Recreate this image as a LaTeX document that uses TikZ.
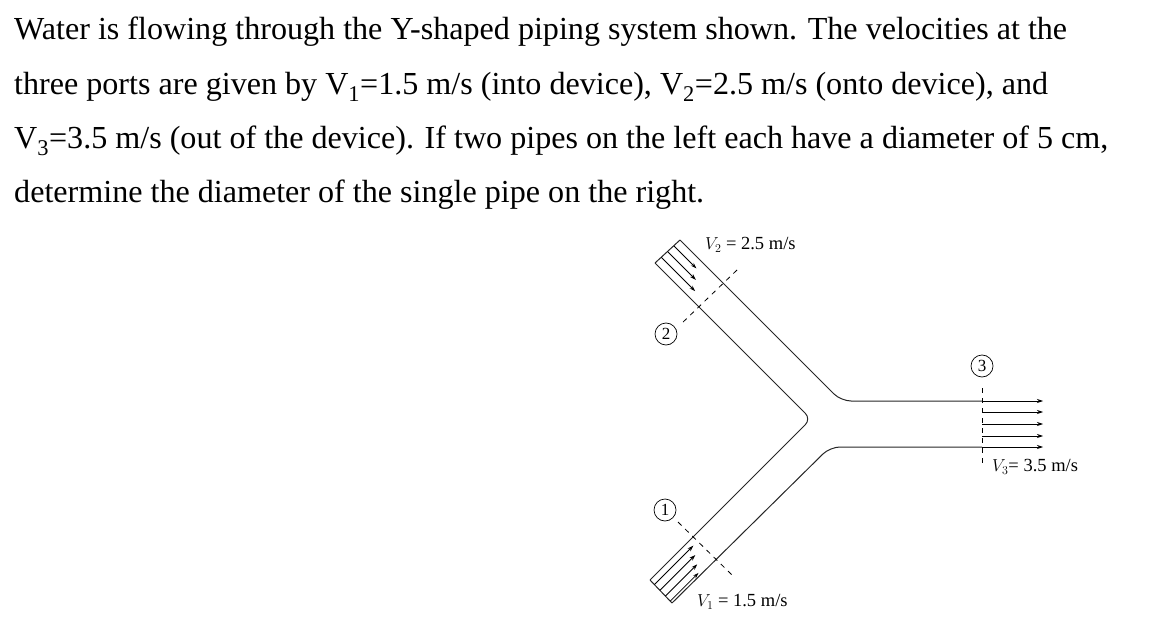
\documentclass[tikz,border=0pt]{standalone}
\usepackage{fontspec}
\setmainfont{Liberation Serif}
\usetikzlibrary{calc,arrows.meta}
\begin{document}
\begin{tikzpicture}[x=1pt,y=-1pt,
  txt/.style={anchor=base west,inner sep=0,font=\fontsize{32.1}{32}\selectfont},
  lab/.style={inner sep=0,font=\fontsize{18.5}{18}\selectfont},
  wall/.style={line width=1pt,black!85},
  flow/.style={line width=0.8pt,-{Stealth[length=6pt,width=4pt]}},
  cut/.style={line width=0.8pt,dash pattern=on 5pt off 5pt},
  port/.style={circle,draw,line width=0.7pt,inner sep=0pt,minimum size=22pt,font=\fontsize{17}{17}\selectfont}]
\useasboundingbox (0,0) rectangle (1150,644);
\node[txt] (l1) at (14,40) {Water is flowing through the Y-shaped piping system shown. The velocities at the};
\node[txt] (l2) at (14,95) {three ports are given by V\textsubscript{1}=1.5 m/s (into device), V\textsubscript{2}=2.5 m/s (onto device), and};
\node[txt] (l3) at (14,149) {V\textsubscript{3}=3.5 m/s (out of the device). If two pipes on the left each have a diameter of 5 cm,};
\node[txt] (l4) at (14,203) {determine the diameter of the single pipe on the right.};
% pipe corners
\coordinate (a) at (680,240); \coordinate (b) at (655,263);
\coordinate (c) at (650,580); \coordinate (d) at (672,603);
\coordinate (v) at (811,419);
\coordinate (e) at (841,401); \coordinate (f) at (830,447);
\draw[wall] (b) -- (a);
\draw[wall,rounded corners=10pt] (a) -- (e) -- (982,401);
\draw[wall] (c) -- (d);
\draw[wall,rounded corners=10pt] (d) -- (f) -- (982,447);
\draw[wall,rounded corners=8pt] (b) -- (v) -- (c);
% port 2
\foreach \t/\L in {0.25/48,0.5/40,0.75/32}{
  \draw[flow] ($(b)!\t!(a)$) -- ($(b)!\t!(a)+({\L*0.7071},{\L*0.7071})$);
}
\coordinate (p2a) at (737,270); \coordinate (p2b) at (680,325);
\draw[cut] (p2a) -- (p2b);
\node[port] (n2) at (666,334) {2};
\node[lab,anchor=west] (v2) at (705,245) {$V_2$ = 2.5 m/s};
% port 1
\foreach \t/\L in {0.2/55,0.45/50,0.7/45,0.92/40}{
  \draw[flow] ($(c)!\t!(d)$) -- ($(c)!\t!(d)+({\L*0.7071},{-\L*0.7071})$);
}
\coordinate (p1a) at (678,522); \coordinate (p1b) at (732,575);
\draw[cut] (p1a) -- (p1b);
\node[port] (n1) at (665,510) {1};
\node[lab,anchor=west] (v1) at (697,602) {$V_1$ = 1.5 m/s};
% port 3
\draw[cut] (982,388) -- (982,465);
\node[port] (n3) at (982,366) {3};
\foreach \y in {401,412,424,436,447}{
  \draw[flow] (982,\y) -- (1043,\y);
}
\node[lab,anchor=west] (v3) at (992,467) {$V_3$= 3.5 m/s};
\end{tikzpicture}
\end{document}
